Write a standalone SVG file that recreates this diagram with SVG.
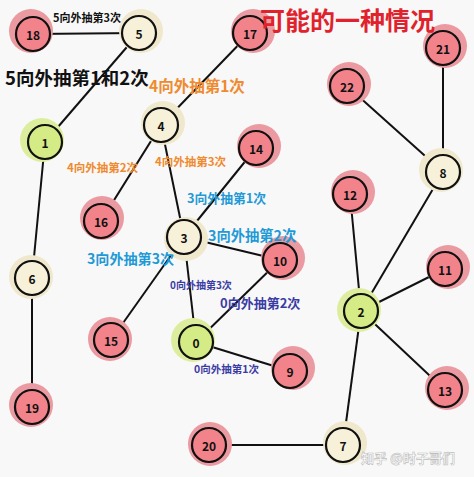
<svg xmlns="http://www.w3.org/2000/svg" width="474" height="477" viewBox="0 0 474 477">
<style>
text{font-family:"Noto Sans CJK SC","Noto Sans",sans-serif;font-weight:bold;}
.r .h{fill:#ea9aa0;} .r .n{fill:#f2838b;}
.g .h{fill:#dcee9e;} .g .n{fill:#d4eb86;}
.y .h{fill:#efe8cc;} .y .n{fill:#f7f1da;}
.n{stroke:#111;stroke-width:2.2;}
.lb{font-size:12px;fill:#111;text-anchor:middle;dominant-baseline:central;}
.e{stroke:#111;stroke-width:2;fill:none;}
.or{fill:#ef8a2e;} .bl{fill:#1f9ad6;} .db{fill:#3b3ca3;}
</style>
<rect width="474" height="477" fill="#f8f8f8"/>
<g id="edges">
<line class="e" x1="33" y1="34" x2="139" y2="33"/>
<line class="e" x1="139" y1="33" x2="45" y2="142"/>
<line class="e" x1="250" y1="33" x2="161" y2="125"/>
<line class="e" x1="161" y1="125" x2="101" y2="221"/>
<line class="e" x1="161" y1="125" x2="184" y2="237"/>
<line class="e" x1="256" y1="148" x2="184" y2="237"/>
<line class="e" x1="184" y1="237" x2="280" y2="260"/>
<line class="e" x1="184" y1="237" x2="111" y2="340"/>
<line class="e" x1="184" y1="237" x2="196" y2="342"/>
<line class="e" x1="280" y1="260" x2="196" y2="342"/>
<line class="e" x1="196" y1="342" x2="290" y2="371"/>
<line class="e" x1="45" y1="142" x2="32" y2="278"/>
<line class="e" x1="32" y1="278" x2="32" y2="407"/>
<line class="e" x1="347" y1="86" x2="443" y2="172"/>
<line class="e" x1="443" y1="48" x2="443" y2="172"/>
<line class="e" x1="443" y1="172" x2="361" y2="311"/>
<line class="e" x1="350" y1="194" x2="361" y2="311"/>
<line class="e" x1="445" y1="269" x2="361" y2="311"/>
<line class="e" x1="445" y1="390" x2="361" y2="311"/>
<line class="e" x1="361" y1="311" x2="343" y2="445"/>
<line class="e" x1="343" y1="445" x2="209" y2="445"/>
</g>
<g id="n18" class="r"><circle class="h" cx="31" cy="31" r="22"/><circle class="n" cx="33" cy="34" r="17"/><text class="lb" x="33" y="34">18</text></g>
<g id="n5" class="y"><circle class="h" cx="141" cy="31" r="22"/><circle class="n" cx="139" cy="33" r="17"/><text class="lb" x="139" y="33">5</text></g>
<g id="n17" class="r"><circle class="h" cx="253" cy="31" r="22"/><circle class="n" cx="250" cy="33" r="17"/><text class="lb" x="250" y="33">17</text></g>
<g id="n21" class="r"><circle class="h" cx="445" cy="46" r="22"/><circle class="n" cx="443" cy="48" r="17"/><text class="lb" x="443" y="48">21</text></g>
<g id="n22" class="r"><circle class="h" cx="349" cy="84" r="22"/><circle class="n" cx="347" cy="86" r="17"/><text class="lb" x="347" y="86">22</text></g>
<g id="n1" class="g"><circle class="h" cx="42" cy="140" r="22"/><circle class="n" cx="45" cy="142" r="17"/><text class="lb" x="45" y="142">1</text></g>
<g id="n4" class="y"><circle class="h" cx="163" cy="123" r="22"/><circle class="n" cx="161" cy="125" r="17"/><text class="lb" x="161" y="125">4</text></g>
<g id="n14" class="r"><circle class="h" cx="259" cy="146" r="22"/><circle class="n" cx="256" cy="148" r="17"/><text class="lb" x="256" y="148">14</text></g>
<g id="n16" class="r"><circle class="h" cx="102" cy="218" r="22"/><circle class="n" cx="101" cy="221" r="17"/><text class="lb" x="101" y="221">16</text></g>
<g id="n12" class="r"><circle class="h" cx="353" cy="192" r="22"/><circle class="n" cx="350" cy="194" r="17"/><text class="lb" x="350" y="194">12</text></g>
<g id="n8" class="y"><circle class="h" cx="441" cy="170" r="22"/><circle class="n" cx="443" cy="172" r="17"/><text class="lb" x="443" y="172">8</text></g>
<g id="n3" class="y"><circle class="h" cx="186" cy="239" r="22"/><circle class="n" cx="184" cy="237" r="17"/><text class="lb" x="184" y="237">3</text></g>
<g id="n10" class="r"><circle class="h" cx="283" cy="258" r="22"/><circle class="n" cx="280" cy="260" r="17"/><text class="lb" x="280" y="260">10</text></g>
<g id="n6" class="y"><circle class="h" cx="31" cy="277" r="22"/><circle class="n" cx="32" cy="278" r="17"/><text class="lb" x="32" y="278">6</text></g>
<g id="n11" class="r"><circle class="h" cx="448" cy="267" r="22"/><circle class="n" cx="445" cy="269" r="17"/><text class="lb" x="445" y="269">11</text></g>
<g id="n2" class="g"><circle class="h" cx="359" cy="310" r="22"/><circle class="n" cx="361" cy="311" r="17"/><text class="lb" x="361" y="311">2</text></g>
<g id="n15" class="r"><circle class="h" cx="110" cy="339" r="22"/><circle class="n" cx="111" cy="340" r="17"/><text class="lb" x="111" y="340">15</text></g>
<g id="n0" class="g"><circle class="h" cx="193" cy="340" r="22"/><circle class="n" cx="196" cy="342" r="17"/><text class="lb" x="196" y="342">0</text></g>
<g id="n9" class="r"><circle class="h" cx="293" cy="368" r="22"/><circle class="n" cx="290" cy="371" r="17"/><text class="lb" x="290" y="371">9</text></g>
<g id="n13" class="r"><circle class="h" cx="447" cy="388" r="22"/><circle class="n" cx="445" cy="390" r="17"/><text class="lb" x="445" y="390">13</text></g>
<g id="n19" class="r"><circle class="h" cx="31" cy="405" r="22"/><circle class="n" cx="32" cy="407" r="17"/><text class="lb" x="32" y="407">19</text></g>
<g id="n20" class="r"><circle class="h" cx="210" cy="444" r="22"/><circle class="n" cx="209" cy="445" r="17"/><text class="lb" x="209" y="445">20</text></g>
<g id="n7" class="y"><circle class="h" cx="345" cy="443" r="22"/><circle class="n" cx="343" cy="445" r="17"/><text class="lb" x="343" y="445">7</text></g>
<g id="labels">
<text x="53" y="22" font-size="11" fill="#111">5向外抽第3次</text>
<text x="5" y="85" font-size="18.5" fill="#111">5向外抽第1和2次</text>
<text x="149" y="92" font-size="15.5" class="or">4向外抽第1次</text>
<text x="67" y="172" font-size="11.5" class="or">4向外抽第2次</text>
<text x="155" y="166" font-size="11.5" class="or">4向外抽第3次</text>
<text x="187" y="203" font-size="12.8" class="bl">3向外抽第1次</text>
<text x="208" y="241" font-size="14.3" class="bl">3向外抽第2次</text>
<text x="87" y="264" font-size="14.1" class="bl">3向外抽第3次</text>
<text x="170" y="289" font-size="10" class="db">0向外抽第3次</text>
<text x="220" y="308" font-size="13" class="db">0向外抽第2次</text>
<text x="194" y="373" font-size="10.5" class="db">0向外抽第1次</text>
<text x="260" y="30" font-size="25" fill="#e0222c">可能的一种情况</text>
<text x="361" y="463" font-size="13" fill="#ffffff" stroke="#bdbdbd" stroke-width="0.6" font-weight="normal">知乎 @时子哥们</text>
</g>
</svg>
